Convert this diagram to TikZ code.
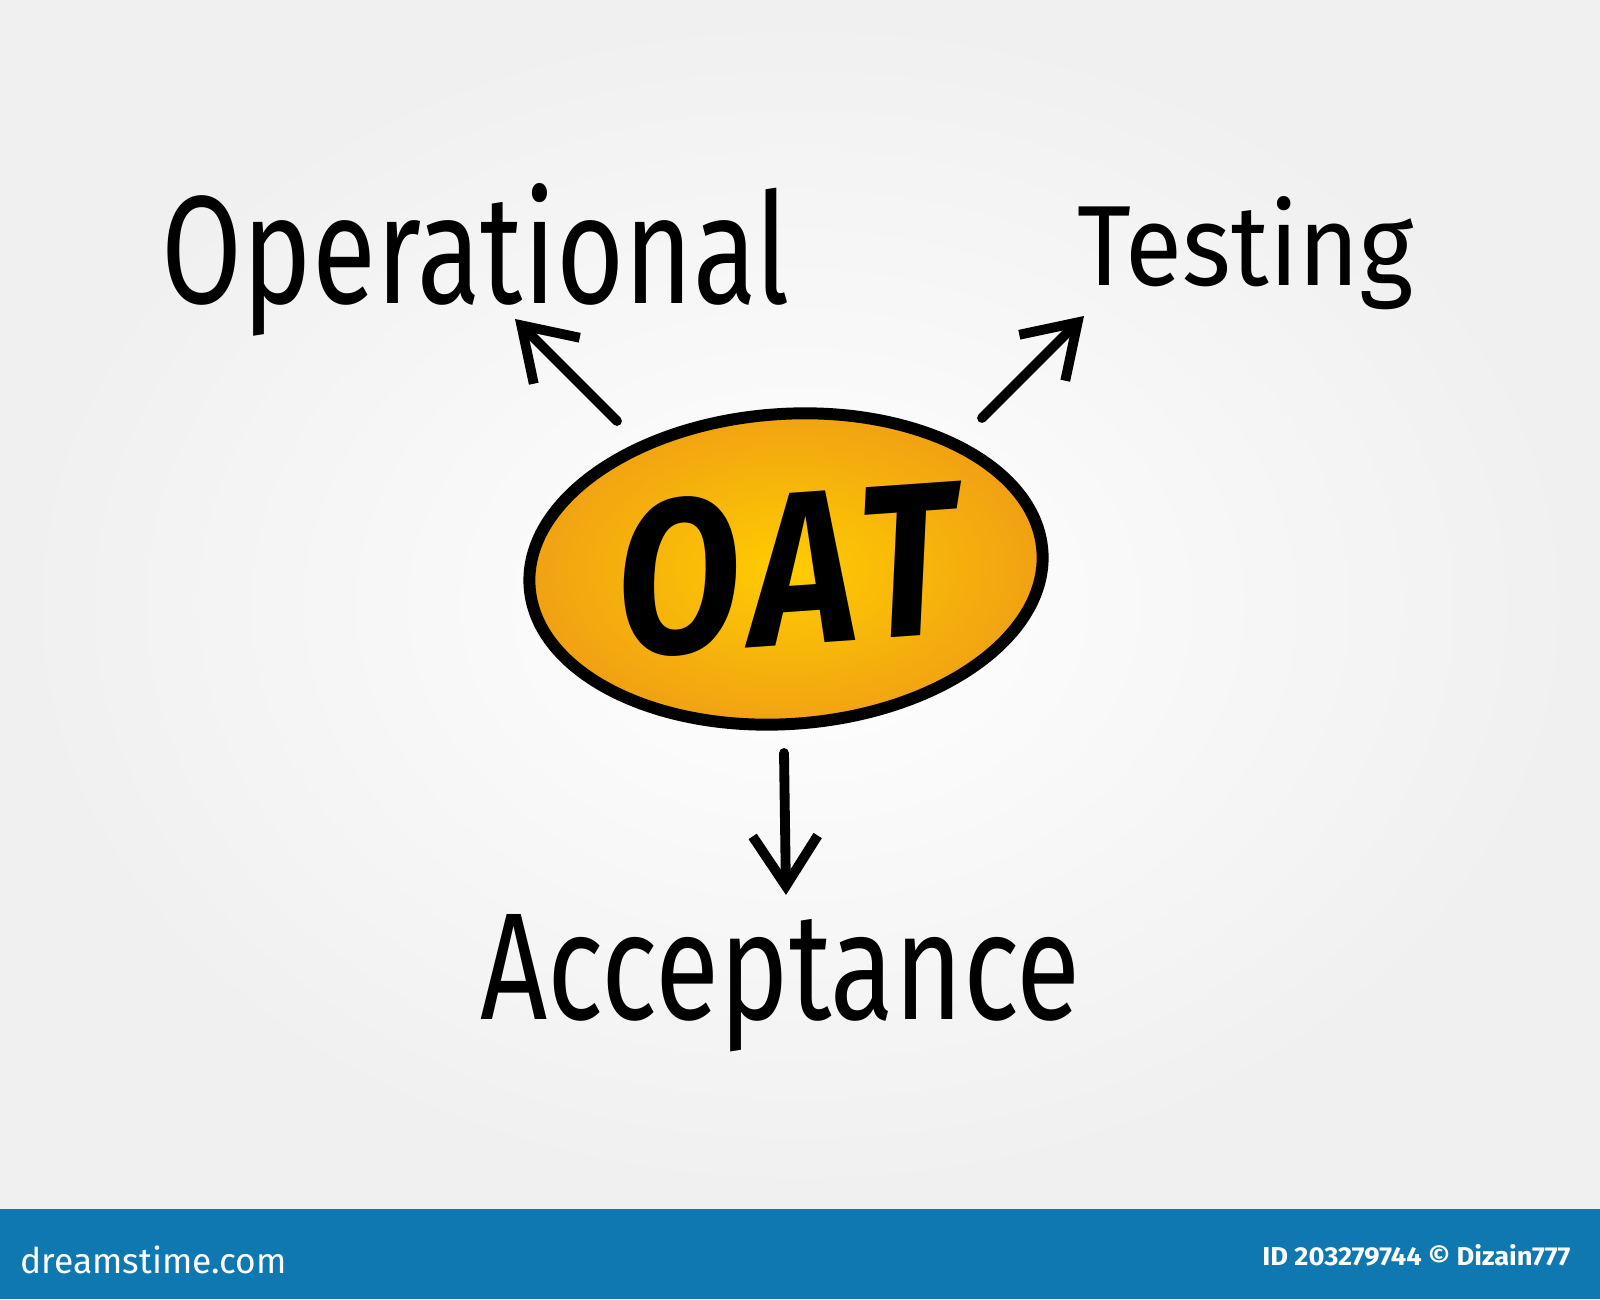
\documentclass[tikz,border=0pt]{standalone}
\usepackage{fontspec}
\setmainfont{Fira Sans}
\usepackage{graphicx}
\usetikzlibrary{shapes.geometric,arrows.meta,positioning}
\definecolor{oatinner}{RGB}{255,204,0}
\definecolor{oatouter}{RGB}{240,160,20}
\definecolor{barblue}{RGB}{15,120,176}
\newcommand{\handword}[3]{\resizebox{#1}{#2}{#3}}

\begin{document}
\begin{tikzpicture}[
  word/.style={inner sep=0pt, anchor=base west},
  marker/.style={line width=2.8pt, line cap=round, line join=round,
    -{Straight Barb[length=5mm,width=6.5mm]}}]
\useasboundingbox (0,0) rectangle (16,12.99);
\shade[inner color=white, outer color=black!6] (0,0.9) rectangle (16,12.99);
\fill[barblue] (0,0) rectangle (16,0.9);

\node[ellipse, draw, line width=3.4pt, minimum width=4.94cm, minimum height=3.10cm,
  inner color=oatinner, outer color=oatouter, rotate=4] (oat) at (7.86,7.30)
  {\handword{3.4cm}{1.55cm}{\bfseries\itshape O\kern0.05em A\kern0.02em T}};

\node[word] (operational) at (1.61,9.95) {\handword{6.28cm}{1.20cm}{Operational}};
\node[word] (testing) at (10.77,10.13) {\handword{3.36cm}{0.89cm}{Testing}};
\node[word] (acceptance) at (4.80,2.79) {\handword{6.0cm}{1.05cm}{Acceptance}};

\coordinate (optail) at (6.17,8.78);
\coordinate (ophead) at (5.15,9.80);
\coordinate (tetail) at (9.82,8.81);
\coordinate (tehead) at (10.84,9.83);
\coordinate (actail) at (7.84,5.46);
\coordinate (achead) at (7.86,4.04);
\draw[marker] (optail) -- (ophead);
\draw[marker] (tetail) -- (tehead);
\draw[marker] (actail) -- (achead);

\node[anchor=base west, text=white, inner sep=0pt] (site) at (0.20,0.26)
  {\resizebox{2.66cm}{!}{dreamstime.com}};
\node[anchor=base east, text=white, inner sep=0pt] (credit) at (15.71,0.34)
  {\resizebox{3.08cm}{0.21cm}{\bfseries ID 203279744 © Dizain777}};
\end{tikzpicture}
\end{document}
